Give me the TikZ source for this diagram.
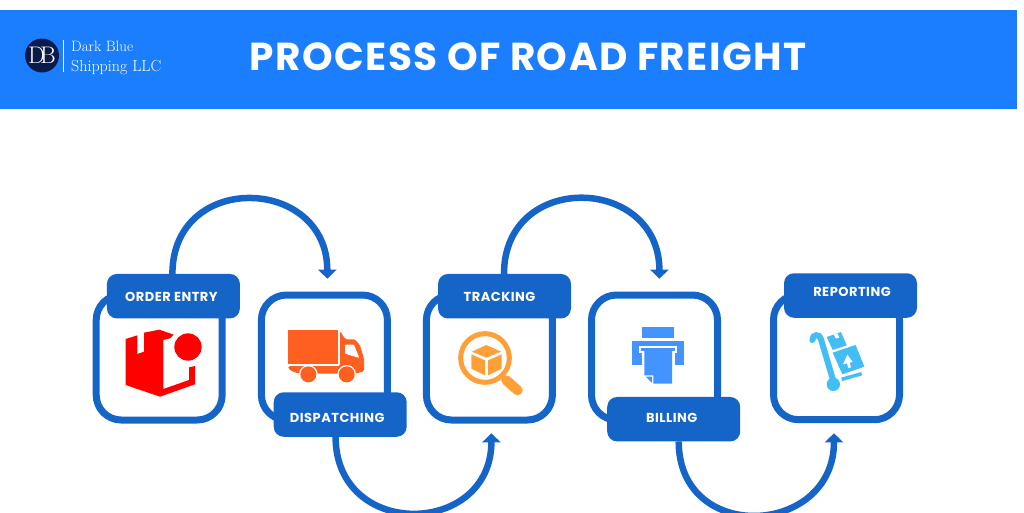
\documentclass[tikz,border=0pt]{standalone}
\usepackage{fontspec}
\usetikzlibrary{arrows.meta}
\newfontfamily\popfont{Poppins}[LetterSpace=3.8]
\newfontfamily\headfont{Poppins}[LetterSpace=3.6]
\definecolor{bandblue}{HTML}{1A7EFF}
\definecolor{flowblue}{HTML}{1565C8}
\definecolor{navy}{HTML}{0B1A48}
\definecolor{boxred}{HTML}{FF0000}
\definecolor{truckorange}{HTML}{FF5F1F}
\definecolor{lensorange}{HTML}{FF9F37}
\definecolor{printblue}{HTML}{4394FF}
\definecolor{cartblue}{HTML}{42BEF5}
\begin{document}
\begin{tikzpicture}[x=1pt,y=-1pt]
        \tikzset{stepbox/.style={draw=flowblue, line width=7pt, fill=white, rounded corners=25pt, minimum width=126pt, minimum height=125pt, inner sep=0pt}}
        \tikzset{tagbox/.style={fill=flowblue, rounded corners=10pt, minimum width=133pt, minimum height=44.5pt, inner sep=0pt, outer sep=0pt}}
        \tikzset{tagtext/.style={text=white, inner sep=0pt, font=\popfont\bfseries\fontsize{13}{15}\selectfont}}
        \tikzset{flow/.style={draw=flowblue, line width=6.5pt, -{Triangle[length=9pt,width=18pt]}, looseness=1.7}}
        \clip (0,0) rectangle (1024,512);
        %
        \fill[bandblue] (0,10) rectangle (1017,108.5);
        \draw (528,57) node[text=white, inner sep=0pt, font=\headfont\bfseries\fontsize{39}{44}\selectfont](H){PROCESS OF ROAD FREIGHT};
        %
        \draw (42,55.5) node[circle, fill=navy, minimum size=34pt, inner sep=0pt, text=white, font=\fontsize{24}{24}\selectfont](G){D\kern-5pt B};
        \fill[white] (63,40) rectangle (64.2,72);
        \draw (71,46) node[anchor=west, text=white, inner sep=0pt, font=\fontsize{15}{18}\selectfont](N1){Dark Blue};
        \draw (71,67.5) node[anchor=west, text=white, inner sep=0pt, font=\fontsize{16}{18}\selectfont](N2){Shipping LLC};
        %
        \draw (159.2,357.5) node[stepbox](S1){};
        \draw (324.4,357.5) node[stepbox](S2){};
        \draw (489.4,357.5) node[stepbox](S3){};
        \draw (654.5,357.5) node[stepbox](S4){};
        \draw (836.5,357.2) node[stepbox](S5){};
        %
        \draw (S1.center) ++(14.2,-61.3) node[tagbox](L1){};
        \draw (S2.center) ++(15.8,57.0) node[tagbox](L2){};
        \draw (S3.center) ++(15.1,-61.3) node[tagbox](L3){};
        \draw (S4.center) ++(19.2,61.7) node[tagbox](L4){};
        \draw (S5.center) ++(14.0,-61.7) node[tagbox](L5){};
        %
        \draw (L1.center) ++(-2,0.7) node[tagtext](T1){ORDER ENTRY};
        \draw (L2.center) ++(-3,3.3) node[tagtext](T2){DISPATCHING};
        \draw (L3.center) ++(-5,0.5) node[tagtext](T3){TRACKING};
        \draw (L4.center) ++(-2,-0.8) node[tagtext](T4){BILLING};
        \draw (L5.center) ++(1.5,-4) node[tagtext](T5){REPORTING};
        %
        \coordinate (A2) at (327.3,278.7);
        \coordinate (A3) at (491.4,433.3);
        \coordinate (A4) at (659.4,278.7);
        \coordinate (A5) at (834,433.3);
        \draw[flow] (L1.north) ++(-1,0) to[out=90, in=90] (A2);
        \draw[flow] (L2.south) ++(-4.6,0) to[out=-90, in=-90] (A3);
        \draw[flow] (L3.north) ++(-0.5,0) to[out=90, in=90] (A4);
        \draw[flow] (L4.south) ++(5,0) to[out=-90, in=-90] (A5);
        %
        % order entry box
        \begin{scope}[shift={(80,260)},scale=1/3]
            \fill[boxred] (137,237) -- (172,226) -- (172,282) -- (192,275) -- (192,218) -- (238,209) -- (281,224) -- (270,235) -- (250,240) -- (250,387) -- (327,360) -- (327,322) -- (345,318) -- (345,373) -- (240,410) -- (137,375) -- cycle;
            \fill[boxred] (324,261) circle (41);
        \end{scope}
        %
        % truck
        \begin{scope}[shift={(280,322)},scale=1/3]
            \fill[truckorange] (25,25) rectangle (174,127);
            \fill[truckorange, rounded corners=1.5pt] (25,132) -- (180,132) -- (180,27) -- (196,52) -- (225,52) -- (240,70) -- (252,110) -- (252,148) -- (225,155) -- (60,155) -- (40,150) -- (25,140) -- cycle;
            \fill[white, rounded corners=1pt] (195,68) -- (222,68) -- (238,108) -- (195,95) -- cycle;
            \fill[white] (85,157) circle (28);
            \fill[white] (200,157) circle (28);
            \fill[truckorange] (85,157) circle (24);
            \fill[truckorange] (200,157) circle (24);
        \end{scope}
        %
        % magnifier
        \begin{scope}[shift={(452,326)},scale=1/3]
            \draw[lensorange, line width=5pt] (99,96) circle (73);
            \draw[lensorange, line width=10pt, line cap=round] (163,163) -- (197,193);
            \fill[lensorange] (60,77) -- (103,57) -- (147,77) -- (103,95) -- cycle;
            \fill[lensorange] (58,85) -- (99,103) -- (99,148) -- (58,128) -- cycle;
            \fill[lensorange] (108,103) -- (149,85) -- (149,128) -- (108,148) -- cycle;
        \end{scope}
        %
        % printer
        \begin{scope}[shift={(625,322)},scale=1/3]
            \fill[printblue] (50,15) rectangle (148,49);
            \fill[printblue] (22,57) rectangle (176,128);
            \fill[white] (42,72) rectangle (156,92);
            \fill[white] (50,90) rectangle (150,128);
            \fill[printblue] (47,77) rectangle (151,87);
            \fill[printblue] (58,85) -- (141,85) -- (141,185) -- (85,185) -- (85,160) -- (58,160) -- cycle;
            \fill[printblue] (62,164) -- (81,164) -- (81,183) -- cycle;
        \end{scope}
        %
        % hand truck
        \begin{scope}[shift={(805,326)},scale=1/3]
            \draw[cartblue, line width=6pt, line cap=round] (22,42) .. controls (22,24) and (44,22) .. (48,40) -- (85,165);
            \fill[cartblue] (85,175) circle (20);
            \draw[cartblue, line width=3.5pt] (110,160) -- (170,143);
            \fill[cartblue] (65,33) -- (108,18) -- (125,58) -- (83,72) -- cycle;
            \fill[white] (86,26) -- (93,38) -- (103,34) -- (97,22) -- cycle;
            \fill[cartblue] (83,80) -- (152,57) -- (178,122) -- (112,145) -- cycle;
            \fill[white] (127,86) -- (143,108) -- (134,110) -- (138,124) -- (130,126) -- (126,112) -- (114,115) -- cycle;
        \end{scope}
    \end{tikzpicture}
\end{document}
